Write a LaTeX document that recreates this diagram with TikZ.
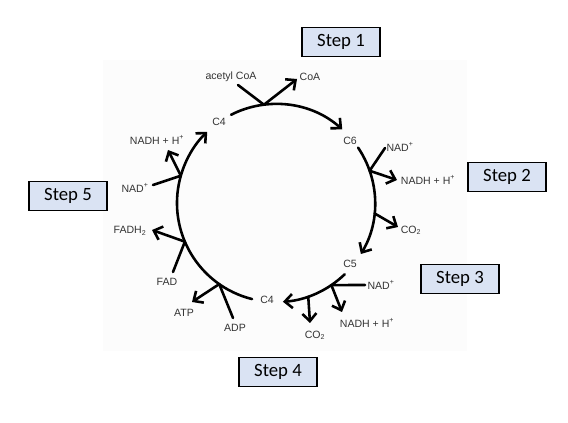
\documentclass[tikz,border=0pt]{standalone}
\usepackage{fontspec}
\setmainfont{Liberation Sans}
\newfontfamily\stepfont{Carlito}
\usetikzlibrary{arrows.meta}
\definecolor{boxblue}{HTML}{DAE3F3}
\definecolor{paper}{HTML}{FCFCFC}

\begin{document}
\begin{tikzpicture}[x=0.03cm, y=0.03cm,
    > = {Straight Barb[length=6.5pt, width=12pt]},
    flow/.style={line width=2.2pt, line cap=round},
    lbl/.style={inner sep=0pt, text=black!80, font=\fontsize{9}{10}\selectfont},
    stepbox/.style={draw, line width=1pt, fill=boxblue, minimum width=2.34cm,
        minimum height=0.85cm, font=\stepfont\fontsize{16}{19}\selectfont}]
    \def\R{2.97cm}
    \useasboundingbox (0,0) rectangle (568,422);
    % Scanned figure
    \fill [paper] (103,71) rectangle (467,362);
    \coordinate (c) at (276,219);
    % Points on the cycle
    \foreach \n/\a in {s1/117, e1/48, jA/97, s2/34, e2/-31, jB/19, jC/-6,
        s3/-46, e3/-86, jD/-56, jE/-71, s4/-104, e4/-226, jF/-125, jG/-157, jH/-196}{
        \path (c) ++(\a:\R) coordinate (\n);
    }
    % Cycle
    \draw [flow, ->] (s1) arc [start angle=117, end angle=48, radius=\R];
    \draw [flow, ->] (s2) arc [start angle=34, end angle=-31, radius=\R];
    \draw [flow, ->] (s3) arc [start angle=-46, end angle=-86, radius=\R];
    \draw [flow, ->] (s4) arc [start angle=-104, end angle=-226, radius=\R];
    % Free ends of the branches
    \coordinate (acIn) at (238,337);
    \coordinate (coaOut) at (297,343);
    \coordinate (nadB) at (385,274);
    \coordinate (nadhB) at (397,242);
    \coordinate (co2C) at (398,195);
    \coordinate (nadD) at (365,137);
    \coordinate (nadhD) at (342,110);
    \coordinate (co2E) at (310,99);
    \coordinate (adpF) at (233,104);
    \coordinate (atpF) at (192,120);
    \coordinate (fadG) at (173,150);
    \coordinate (fadhG) at (152,192);
    \coordinate (nadH) at (153,237);
    \coordinate (nadhH) at (168,272);
    % Branches
    \draw [flow] (acIn) -- (jA);
    \draw [flow, ->] (jA) -- (coaOut);
    \draw [flow] (nadB) -- (jB);
    \draw [flow, ->] (jB) -- (nadhB);
    \draw [flow, ->] (jC) -- (co2C);
    \draw [flow] (nadD) -- (jD);
    \draw [flow, ->] (jD) -- (nadhD);
    \draw [flow, ->] (jE) -- (co2E);
    \draw [flow] (adpF) -- (jF);
    \draw [flow, ->] (jF) -- (atpF);
    \draw [flow] (fadG) -- (jG);
    \draw [flow, ->] (jG) -- (fadhG);
    \draw [flow] (nadH) -- (jH);
    \draw [flow, ->] (jH) -- (nadhH);
    % Labels
    \node [lbl] (acetyl) at (231,345) {acetyl CoA};
    \node [lbl] (coa) at (310,345) {CoA};
    \node [lbl] (c4top) at (219,300) {C4};
    \node [lbl] (c6) at (350,281) {C6};
    \node [lbl] (nad2) at (400,275) {NAD\textsuperscript{+}};
    \node [lbl] (nadh2) at (428,242) {NADH + H\textsuperscript{+}};
    \node [lbl] (co22) at (411,192) {CO\textsubscript{2}};
    \node [lbl] (c5) at (350,158) {C5};
    \node [lbl] (nad3) at (381,137) {NAD\textsuperscript{+}};
    \node [lbl] (nadh3) at (367,99) {NADH + H\textsuperscript{+}};
    \node [lbl] (co23) at (315,87) {CO\textsubscript{2}};
    \node [lbl] (c4bot) at (267,122) {C4};
    \node [lbl] (atp) at (184,109) {ATP};
    \node [lbl] (adp) at (235,94) {ADP};
    \node [lbl] (fad) at (167,140) {FAD};
    \node [lbl] (fadh) at (130,191) {FADH\textsubscript{2}};
    \node [lbl] (nad5) at (135,234) {NAD\textsuperscript{+}};
    \node [lbl] (nadh5) at (157,282) {NADH + H\textsuperscript{+}};
    % Steps
    \foreach \i/\x/\y in {1/341/380, 2/507/245, 3/460/143, 4/278/50, 5/68/226}{
        \node [stepbox] (step\i) at (\x,\y) {Step \i};
    }
\end{tikzpicture}
\end{document}
